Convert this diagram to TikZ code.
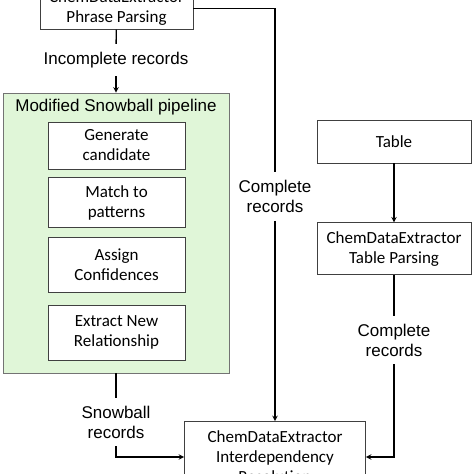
\documentclass[tikz,border=0pt]{standalone}
\usepackage{fontspec}
\setmainfont{Liberation Sans}
\newfontfamily\boxfont{Carlito}
\usetikzlibrary{arrows.meta, positioning}
\definecolor{pipegreen}{RGB}{224,246,216}
\tikzstyle{process} = [
    rectangle,
    minimum width=153pt,
    text centered,
    align=center,
    draw=black!75,
    fill=white,
    line width=0.8pt,
    font=\boxfont\fontsize{17}{20}\selectfont
]
\tikzstyle{pipeline} = [
    rectangle,
    draw=black!55,
    fill=pipegreen,
    line width=0.8pt
]
\tikzstyle{flowlabel} = [
    align=center,
    inner sep=8pt,
    font=\fontsize{17}{20}\selectfont
]
\tikzstyle{line} = [
    line width=1.4pt
]
\tikzstyle{arrow} = [
    line width=1.4pt,
    ->,
    >=stealth
]

\begin{document}
\begin{tikzpicture}[x=1pt, y=1pt]

\useasboundingbox (0,0) rectangle (474,-474);
\clip (0,0) rectangle (474,-474);

\tikzstyle{stage} = [process, minimum width=137pt]

\node (phrase)   [process, minimum height=37pt] at (116.5,-8.5) {ChemDataExtractor\\Phrase Parsing};
\node (pipeline) [pipeline, minimum width=226pt, minimum height=280pt] at (116,-233) {};
\node (pipetitle)[flowlabel] at (116,-107) {Modified Snowball pipeline};
\node (generate) [stage, minimum height=47pt] at (116.5,-145.5) {Generate\\candidate};
\node (match)    [stage, minimum height=50pt, below=8pt of generate] {Match to\\patterns};
\node (assign)   [stage, minimum height=55pt, below=9pt of match] {Assign\\Confidences};
\node (extract)  [stage, minimum height=55pt, below=12pt of assign] {Extract New\\Relationship};

\node (table)    [process, minimum width=154pt, minimum height=43pt] at (394,-141.5) {Table};
\node (tparse)   [process, minimum width=154pt, minimum height=52pt, below=59pt of table] {ChemDataExtractor\\Table Parsing};
\node (interdep) [process, minimum width=181pt, minimum height=71pt] at (275,-457) {ChemDataExtractor\\Interdependency\\Resolution};

\node (incomplete) [flowlabel] at (116,-60) {Incomplete records};
\node (complete1)  [flowlabel] at (275,-196.5) {Complete\\records};
\node (complete2)  [flowlabel] at (394,-340) {Complete\\records};
\node (snowrec)    [flowlabel] at (116,-422) {Snowball\\records};

\draw[line]  (phrase) -- (incomplete);
\draw[arrow] (incomplete) -- (pipeline);
\draw[line]  (phrase.east) -| (complete1);
\draw[arrow] (complete1) -- (interdep);
\draw[arrow] (table) -- (tparse);
\draw[line]  (tparse) -- (complete2);
\draw[arrow] (complete2) |- (interdep.east);
\draw[line]  (pipeline) -- (snowrec);
\draw[arrow] (snowrec) |- (interdep.west);

\end{tikzpicture}
\end{document}
